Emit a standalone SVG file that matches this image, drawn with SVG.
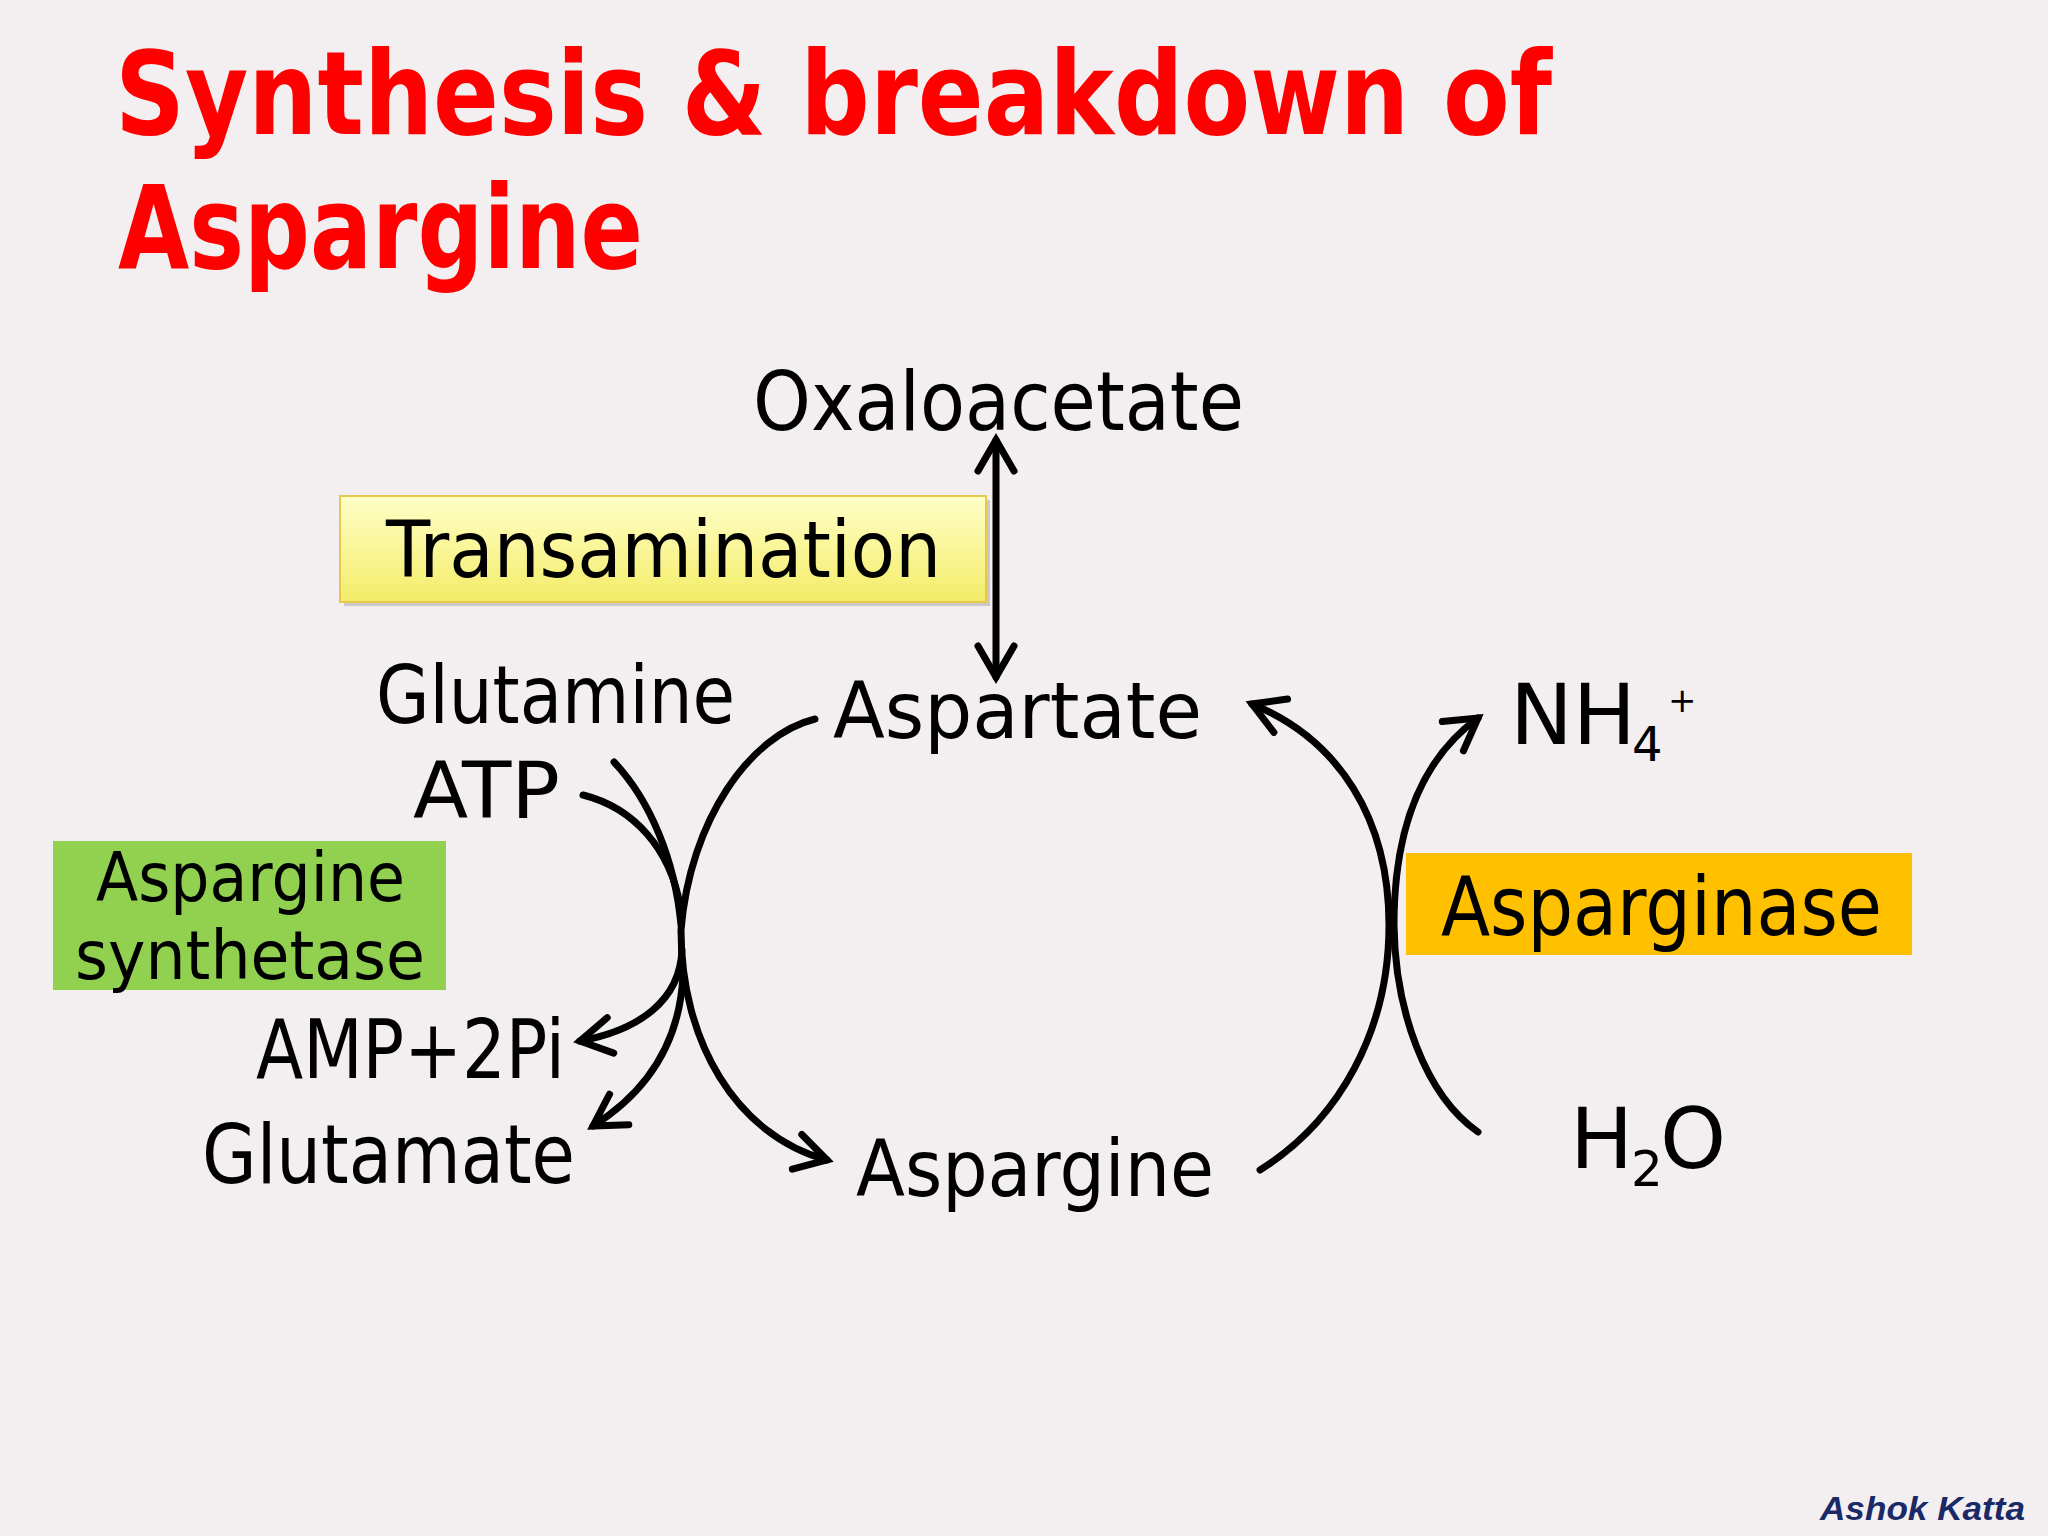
<svg xmlns="http://www.w3.org/2000/svg" width="2048" height="1536" viewBox="0 0 2048 1536">
<defs>
<style>
.t{font-family:"DejaVu Sans","Liberation Sans",sans-serif;fill:#000;}
.title{font-family:"DejaVu Sans","Liberation Sans",sans-serif;font-weight:bold;fill:#ff0000;font-size:115px;}
.c{fill:none;stroke:#000;stroke-width:7;stroke-linecap:round;}
</style>
<linearGradient id="yg" x1="0" y1="0" x2="0" y2="1">
<stop offset="0" stop-color="#ffffc8"/>
<stop offset="1" stop-color="#f4ec68"/>
</linearGradient>
<marker id="ah" markerUnits="userSpaceOnUse" markerWidth="50" markerHeight="50" refX="0" refY="0" viewBox="-40 -25 50 50" orient="auto-start-reverse">
<path d="M -31,-18 L 0,0 L -31,18" fill="none" stroke="#000" stroke-width="7" stroke-linecap="round" stroke-linejoin="miter"/>
</marker>
</defs>
<rect x="0" y="0" width="2048" height="1536" fill="#f3eff1"/>

<g id="title">
<text class="title" x="115" y="134" textLength="1437" lengthAdjust="spacingAndGlyphs">Synthesis &amp; breakdown of</text>
<text class="title" x="118" y="268" textLength="525" lengthAdjust="spacingAndGlyphs">Aspargine</text>
</g>

<g id="connectors">
<line class="c" x1="996" y1="440" x2="996" y2="677" marker-start="url(#ah)" marker-end="url(#ah)"/>
<path class="c" d="M 815,719 C 750,735 690,820 681,930 C 681,1040 735,1135 827,1160" marker-end="url(#ah)"/>
<path class="c" d="M 614,762 C 650,800 675,860 681,925"/>
<path class="c" d="M 583,795 C 635,808 670,850 680,905"/>
<path class="c" d="M 682,950 C 680,1000 640,1030 580,1041" marker-end="url(#ah)"/>
<path class="c" d="M 683,975 C 680,1040 650,1090 593,1126" marker-end="url(#ah)"/>
<path class="c" d="M 1260,1170 C 1340,1120 1389,1030 1389,925 C 1389,820 1340,740 1252,704" marker-end="url(#ah)"/>
<path class="c" d="M 1478,1132 C 1425,1095 1395,1010 1394,925 C 1394,830 1420,760 1478,718" marker-end="url(#ah)"/>
</g>

<g id="oxaloacetate">
<text class="t" x="753" y="430" font-size="82" textLength="491" lengthAdjust="spacingAndGlyphs">Oxaloacetate</text>
</g>

<g id="transamination">
<rect x="344" y="500" width="646" height="106" fill="#9a9a9a" opacity="0.45"/>
<rect x="340" y="496" width="646" height="106" fill="url(#yg)" stroke="#e6c84a" stroke-width="2"/>
<text class="t" x="386" y="577" font-size="78" textLength="555" lengthAdjust="spacingAndGlyphs">Transamination</text>
</g>

<g id="glutamine">
<text class="t" x="376" y="723" font-size="80" textLength="359" lengthAdjust="spacingAndGlyphs">Glutamine</text>
</g>
<g id="atp">
<text class="t" x="413" y="818" font-size="78" textLength="147" lengthAdjust="spacingAndGlyphs">ATP</text>
</g>

<g id="aspargine-synthetase">
<rect x="53" y="841" width="393" height="149" fill="#92d050"/>
<text class="t" x="96" y="901" font-size="68" textLength="309" lengthAdjust="spacingAndGlyphs">Aspargine</text>
<text class="t" x="75" y="979" font-size="68" textLength="350" lengthAdjust="spacingAndGlyphs">synthetase</text>
</g>

<g id="amp">
<text class="t" x="256" y="1078" font-size="82" textLength="309" lengthAdjust="spacingAndGlyphs">AMP+2Pi</text>
</g>
<g id="glutamate">
<text class="t" x="202" y="1183" font-size="82" textLength="373" lengthAdjust="spacingAndGlyphs">Glutamate</text>
</g>

<g id="aspartate">
<text class="t" x="833" y="738" font-size="78" textLength="369" lengthAdjust="spacingAndGlyphs">Aspartate</text>
</g>
<g id="aspargine">
<text class="t" x="856" y="1196" font-size="78" textLength="358" lengthAdjust="spacingAndGlyphs">Aspargine</text>
</g>

<g id="nh4">
<text class="t" font-size="84"><tspan x="1510" y="744">NH</tspan><tspan x="1632" y="761" font-size="48">4</tspan><tspan x="1668" y="712" font-size="34">+</tspan></text>
</g>

<g id="asparginase">
<rect x="1406" y="853" width="506" height="102" fill="#ffc000"/>
<text class="t" x="1441" y="935" font-size="82" textLength="441" lengthAdjust="spacingAndGlyphs">Asparginase</text>
</g>

<g id="h2o">
<text class="t" font-size="84"><tspan x="1570" y="1168">H</tspan><tspan x="1631" y="1186" font-size="50">2</tspan><tspan x="1660" y="1168">O</tspan></text>
</g>

<g id="signature">
<text x="1820" y="1520" font-family="Liberation Sans, Arial, sans-serif" font-weight="bold" font-style="italic" font-size="34" fill="#1b2a66" textLength="205" lengthAdjust="spacingAndGlyphs">Ashok Katta</text>
</g>
</svg>
